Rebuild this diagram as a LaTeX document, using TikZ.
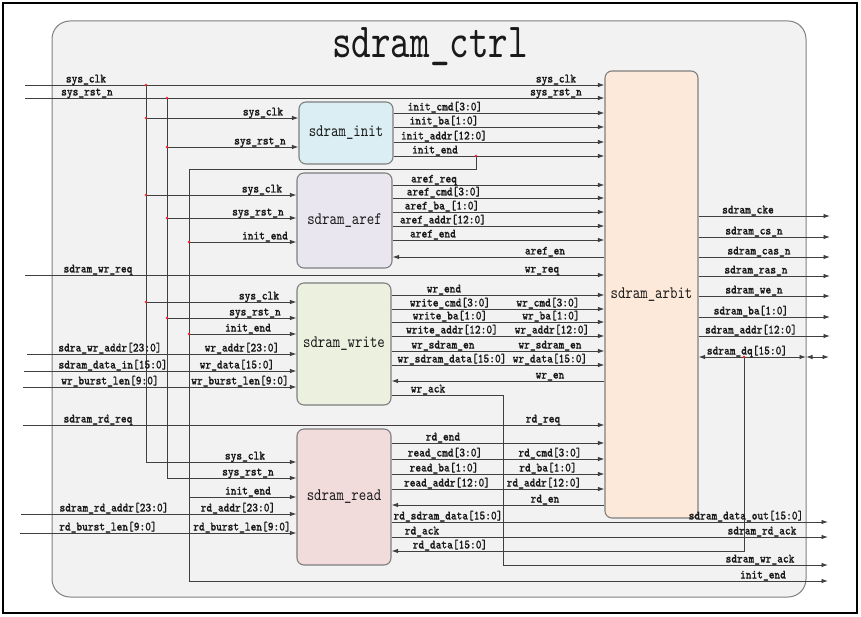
\documentclass[tikz,border=0pt]{standalone}
\usepackage{fontspec}
\usetikzlibrary{arrows.meta}
\newfontfamily\sgfont[FakeStretch=0.86, BoldFont=lmmonolt10-bold.otf, BoldFeatures={FakeBold=0.5}]{lmmono10-regular.otf}
\newfontfamily\blkfont[FakeStretch=0.81]{lmmono10-regular.otf}
\newfontfamily\ttlfont[FakeStretch=0.76]{lmmono10-regular.otf}
\definecolor{linec}{HTML}{404040}
\definecolor{textc}{HTML}{1A1A1A}
\definecolor{boxc}{HTML}{7F7F7F}
\definecolor{bgc}{HTML}{F2F2F2}
\definecolor{dotc}{HTML}{FF2020}
\definecolor{initc}{HTML}{DAEEF3}
\definecolor{arefc}{HTML}{E9E6EF}
\definecolor{writec}{HTML}{EBF1DE}
\definecolor{readc}{HTML}{F2DCDB}
\definecolor{arbc}{HTML}{FDE9D9}
\newcounter{lbc}
\tikzset{
  sig/.style={draw=linec, line width=0.9pt},
  arr/.style={sig, -{Latex[length=6.5pt,width=4.5pt]}},
  dblarr/.style={sig, {Latex[length=6.5pt,width=4.5pt]}-{Latex[length=6.5pt,width=4.5pt]}},
  lab/.style={font=\sgfont\bfseries\fontsize{12.7}{13}\selectfont, text=textc, inner sep=0pt, anchor=base},
  blk/.style={draw=boxc, line width=1.1pt, rounded corners=7pt, inner sep=0pt,
    font=\blkfont\fontsize{17.5}{18}\selectfont, text=textc},
}
\newcommand\lb[3]{\stepcounter{lbc}\node[lab, name=L\arabic{lbc}] at (#1,#2-2.5) {#3};}
\newcommand\br[3]{\draw[arr] (#1 |- 0,#2) -- (#3.west |- 0,#2);}
\newcommand\brd[3]{\br{#1}{#2}{#3}\fill[dotc] (#1 |- 0,#2) circle (1.3pt);}
\newcommand\toarb[2]{\draw[arr] (#1.east |- 0,#2) -- (arb.west |- 0,#2);}
\newcommand\fromarb[2]{\draw[arr] (arb.west |- 0,#2) -- (#1.east |- 0,#2);}
\newcommand\arbout[2]{\coordinate (#1) at (830,#2);\draw[arr] (arb.east |- 0,#2) -- (#1);}
\begin{document}
\begin{tikzpicture}[x=1pt,y=-1pt]
\useasboundingbox (0,0) rectangle (861,617);
% frames
\draw[line width=1.8pt, draw=black] (3,3) rectangle (857,613);
\draw[draw=boxc, line width=1pt, fill=bgc, rounded corners=18pt] (52,21) rectangle (806,597);
\node[font=\ttlfont\fontsize{49}{50}\selectfont, text=textc, inner sep=0pt] (title) at (430,47) {sdram\_ctrl};
% blocks
\node[blk, fill=initc, minimum width=94pt, minimum height=62pt] (init) at (346,133) {sdram\_init};
\node[blk, fill=arefc, minimum width=95pt, minimum height=95pt] (aref) at (344.5,220.5) {sdram\_aref};
\node[blk, fill=writec, minimum width=94pt, minimum height=122pt] (write) at (344,344) {sdram\_write};
\node[blk, fill=readc, minimum width=94pt, minimum height=136pt] (read) at (344,497) {sdram\_read};
\node[blk, fill=arbc, minimum width=93pt, minimum height=447pt] (arb) at (651.5,294.5) {sdram\_arbit};
% global inputs
\coordinate (clkin) at (25,85);
\coordinate (rstin) at (25,98);
\coordinate (clkT) at (146,85);
\coordinate (rstT) at (167,98);
\draw[arr] (clkin) -- (arb.west |- clkin);
\draw[arr] (rstin) -- (arb.west |- rstin);
\draw[arr] (clkT) |- (read.west |- 0,462);
\draw[arr] (rstT) |- (read.west |- 0,478);
\fill[dotc] (clkT) circle (1.3pt);
\fill[dotc] (rstT) circle (1.3pt);
\brd{clkT}{118}{init}
\brd{rstT}{147}{init}
\brd{clkT}{195}{aref}
\brd{rstT}{218}{aref}
\brd{clkT}{302}{write}
\brd{rstT}{318}{write}
% init outputs
\toarb{init}{113}
\toarb{init}{127}
\toarb{init}{142}
\toarb{init}{156}
\coordinate (ieJ) at (476,156);
\coordinate (ieT) at (189,169);
\coordinate (ieout) at (828,581);
\draw[arr] (ieJ) |- (ieT) |- (ieout);
\fill[dotc] (ieJ) circle (1.3pt);
\brd{ieT}{242}{aref}
\brd{ieT}{334}{write}
\br{ieT}{497}{read}
% aref outputs
\toarb{aref}{185}
\toarb{aref}{198}
\toarb{aref}{212}
\toarb{aref}{226}
\toarb{aref}{240}
\fromarb{aref}{257}
% write
\coordinate (wrreqin) at (25,275);
\draw[arr] (wrreqin) -- (arb.west |- wrreqin);
\coordinate (wain) at (27,354);
\coordinate (wdin) at (24,371);
\coordinate (wbin) at (23,387);
\draw[arr] (wain) -- (write.west |- wain);
\draw[arr] (wdin) -- (write.west |- wdin);
\draw[arr] (wbin) -- (write.west |- wbin);
\toarb{write}{295}
\toarb{write}{309}
\toarb{write}{322}
\toarb{write}{336}
\toarb{write}{351}
\toarb{write}{365}
\fromarb{write}{381}
\coordinate (wrackout) at (828,565);
\draw[arr] (write.east |- 0,395) -| (503,565) -- (wrackout);
% read
\coordinate (rdreqin) at (23,425);
\draw[arr] (rdreqin) -- (arb.west |- rdreqin);
\coordinate (rain) at (21,514);
\coordinate (rbin) at (20,533);
\draw[arr] (rain) -- (read.west |- rain);
\draw[arr] (rbin) -- (read.west |- rbin);
\toarb{read}{443}
\toarb{read}{459}
\toarb{read}{474}
\toarb{read}{489}
\fromarb{read}{505}
\coordinate (dout) at (828,522);
\coordinate (rackout) at (828,537);
\draw[arr] (read.east |- dout) -- (dout);
\draw[arr] (read.east |- rackout) -- (rackout);
\coordinate (dqJ) at (744,357);
\draw[arr] (dqJ) |- (read.east |- 0,551);
% arbit outputs
\arbout{cke}{216}
\arbout{csn}{237}
\arbout{casn}{257}
\arbout{rasn}{276}
\arbout{wen}{296}
\arbout{ba}{317}
\arbout{addr}{336}
\coordinate (dqin) at (806,357);
\coordinate (dqout) at (829,357);
\draw[dblarr] (arb.east |- dqin) -- (dqin);
\draw[dblarr] (dqin) -- (dqout);
\fill[dotc] (dqJ) circle (1.3pt);
% labels
\lb{86}{85}{sys\_clk}
\lb{556}{85}{sys\_clk}
\lb{87}{98}{sys\_rst\_n}
\lb{556}{98}{sys\_rst\_n}
\lb{263}{118}{sys\_clk}
\lb{260}{147}{sys\_rst\_n}
\lb{445}{113}{init\_cmd[3:0]}
\lb{444}{127}{init\_ba[1:0]}
\lb{444}{142}{init\_addr[12:0]}
\lb{435}{156}{init\_end}
\lb{262}{195}{sys\_clk}
\lb{258}{218}{sys\_rst\_n}
\lb{265}{242}{init\_end}
\lb{434}{185}{aref\_req}
\lb{444}{198}{aref\_cmd[3:0]}
\lb{442}{212}{aref\_ba\_[1:0]}
\lb{443}{226}{aref\_addr[12:0]}
\lb{433}{240}{aref\_end}
\lb{545}{257}{aref\_en}
\lb{98}{275}{sdram\_wr\_req}
\lb{542}{275}{wr\_req}
\lb{259}{302}{sys\_clk}
\lb{255}{318}{sys\_rst\_n}
\lb{248}{334}{init\_end}
\lb{242}{354}{wr\_addr[23:0]}
\lb{237}{371}{wr\_data[15:0]}
\lb{240}{387}{wr\_burst\_len[9:0]}
\lb{110}{354}{sdra\_wr\_addr[23:0]}
\lb{113}{371}{sdram\_data\_in[15:0]}
\lb{110}{387}{wr\_burst\_len[9:0]}
\lb{444}{295}{wr\_end}
\lb{450}{309}{write\_cmd[3:0]}
\lb{548}{309}{wr\_cmd[3:0]}
\lb{450}{322}{write\_ba[1:0]}
\lb{551}{322}{wr\_ba[1:0]}
\lb{452}{336}{write\_addr[12:0]}
\lb{552}{336}{wr\_addr[12:0]}
\lb{443}{351}{wr\_sdram\_en}
\lb{550}{351}{wr\_sdram\_en}
\lb{452}{365}{wr\_sdram\_data[15:0]}
\lb{550}{365}{wr\_data[15:0]}
\lb{550}{381}{wr\_en}
\lb{428}{395}{wr\_ack}
\lb{98}{425}{sdram\_rd\_req}
\lb{543}{425}{rd\_req}
\lb{245}{462}{sys\_clk}
\lb{248}{478}{sys\_rst\_n}
\lb{248}{497}{init\_end}
\lb{238}{514}{rd\_addr[23:0]}
\lb{242}{533}{rd\_burst\_len[9:0]}
\lb{114}{514}{sdram\_rd\_addr[23:0]}
\lb{108}{533}{rd\_burst\_len[9:0]}
\lb{443}{443}{rd\_end}
\lb{445}{459}{read\_cmd[3:0]}
\lb{550}{459}{rd\_cmd[3:0]}
\lb{444}{474}{read\_ba[1:0]}
\lb{548}{474}{rd\_ba[1:0]}
\lb{447}{489}{read\_addr[12:0]}
\lb{544}{489}{rd\_addr[12:0]}
\lb{545}{505}{rd\_en}
\lb{448}{522}{rd\_sdram\_data[15:0]}
\lb{422}{537}{rd\_ack}
\lb{450}{551}{rd\_data[15:0]}
\lb{748}{216}{sdram\_cke}
\lb{754}{237}{sdram\_cs\_n}
\lb{759}{257}{sdram\_cas\_n}
\lb{756}{276}{sdram\_ras\_n}
\lb{754}{296}{sdram\_we\_n}
\lb{751}{317}{sdram\_ba[1:0]}
\lb{751}{336}{sdram\_addr[12:0]}
\lb{747}{357}{sdram\_dq[15:0]}
\lb{746}{522}{sdram\_data\_out[15:0]}
\lb{762}{537}{sdram\_rd\_ack}
\lb{760}{565}{sdram\_wr\_ack}
\lb{763}{581}{init\_end}
\end{tikzpicture}
\end{document}
